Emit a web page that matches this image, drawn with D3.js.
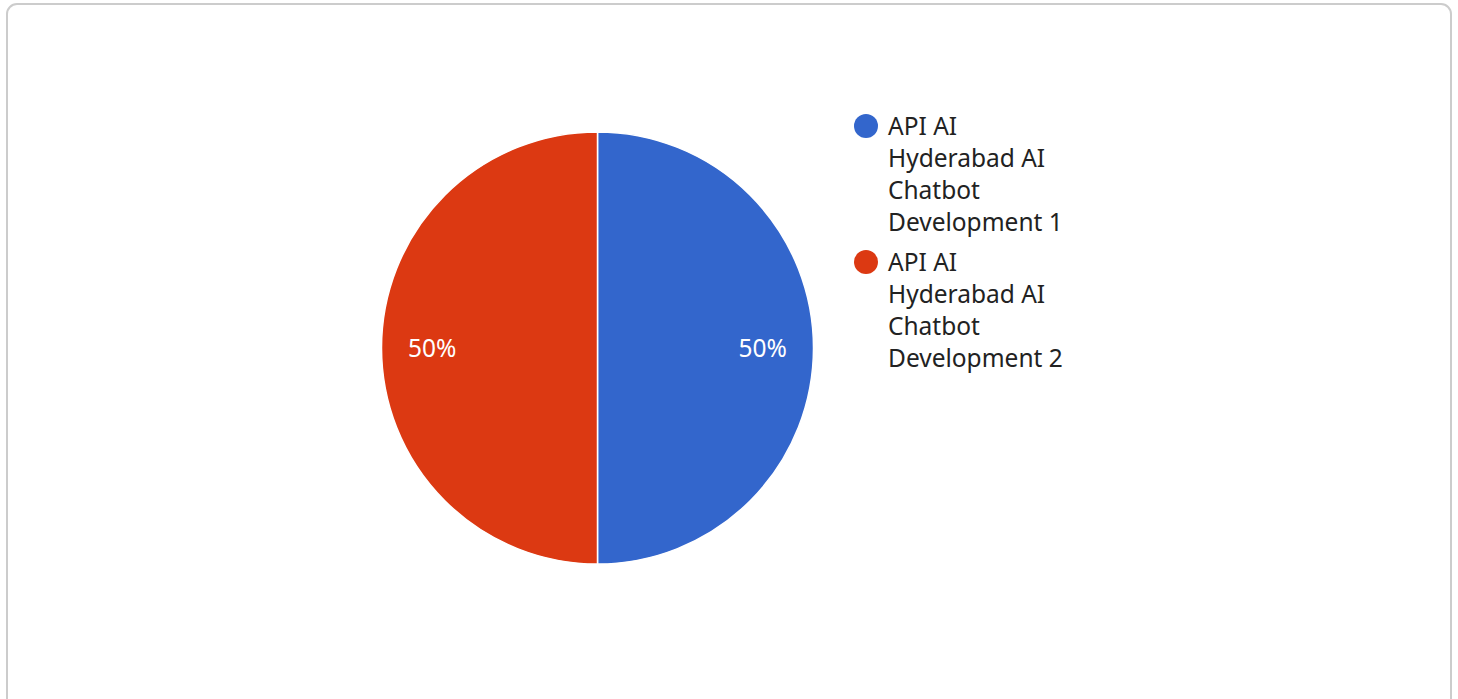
<!DOCTYPE html>
<html>
<head>
<meta charset="utf-8">
<script src="https://cdn.jsdelivr.net/npm/d3@7"></script>
<style>
  body { margin: 0; background: #fff; font-family: "Noto Sans", sans-serif; }
  svg { display: block; }
</style>
</head>
<body>
<svg id="chart" width="1458" height="699"></svg>
<script>
const labels = ["API AI Hyderabad AI Chatbot Development 1", "API AI Hyderabad AI Chatbot Development 2"];
const legendLines = [
  ["API AI", "Hyderabad AI", "Chatbot", "Development 1"],
  ["API AI", "Hyderabad AI", "Chatbot", "Development 2"],
];
const values = [1, 1];
const colors = ["#3366cc", "#dc3912"];

const svg = d3.select("#chart");

// card border
svg.append("rect")
  .attr("x", 7).attr("y", 4)
  .attr("width", 1444).attr("height", 705)
  .attr("rx", 10)
  .attr("fill", "#fff")
  .attr("stroke", "#cccccc")
  .attr("stroke-width", 2);

const cx = 597.5, cy = 348, r = 216;

const pie = d3.pie().sort(null).value(d => d);
const arc = d3.arc().innerRadius(0).outerRadius(r);
const labelArc = d3.arc().innerRadius(r * 0.765).outerRadius(r * 0.765);

const g = svg.append("g").attr("transform", `translate(${cx},${cy})`);
const arcs = pie(values);

g.selectAll("path")
  .data(arcs)
  .enter()
  .append("path")
  .attr("d", arc)
  .attr("fill", (d, i) => colors[i])
  .attr("stroke", "#fff")
  .attr("stroke-width", 1.5);

const total = d3.sum(values);
g.selectAll("text")
  .data(arcs)
  .enter()
  .append("text")
  .attr("transform", d => `translate(${labelArc.centroid(d)})`)
  .attr("text-anchor", "middle")
  .attr("dy", "0.35em")
  .attr("fill", "#fff")
  .attr("font-size", 24.5)
  .text(d => Math.round(d.value / total * 100) + "%");

// legend
const legend = svg.append("g").attr("transform", "translate(866,126)");
let yOff = 0;
legendLines.forEach((lines, i) => {
  const item = legend.append("g").attr("transform", `translate(0,${yOff})`);
  item.append("circle").attr("r", 12).attr("fill", colors[i]);
  const t = item.append("text")
    .attr("x", 22)
    .attr("fill", "#222")
    .attr("font-size", 24.5);
  lines.forEach((ln, j) => {
    t.append("tspan").attr("x", 22).attr("y", j * 32).attr("dy", "0.35em").text(ln);
  });
  yOff += lines.length * 32 + 8;
});
</script>
</body>
</html>
